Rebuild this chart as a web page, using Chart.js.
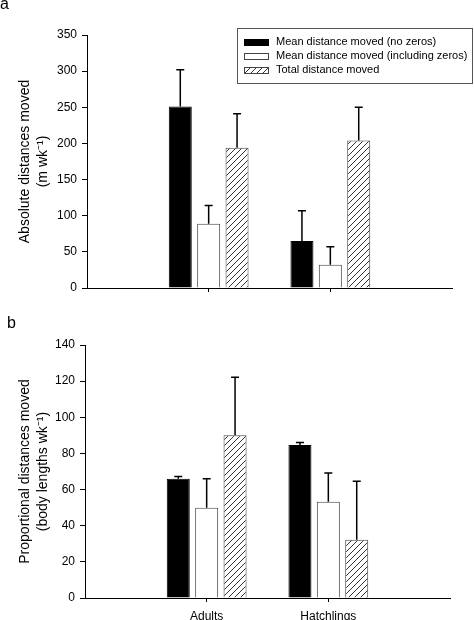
<!DOCTYPE html>
<html>
<head>
<meta charset="utf-8">
<script src="https://cdn.jsdelivr.net/npm/chart.js@4.4.0/dist/chart.umd.min.js"></script>
<style>
  body { margin: 0; background: #fff; }
  canvas { display: block; }
</style>
</head>
<body>
<canvas id="chartA" width="474" height="310"></canvas>
<canvas id="chartB" width="474" height="310"></canvas>
<script>
const categories = ['', 'Adults', 'Hatchlings', ''];
const seriesNames = ['Mean distance moved (no zeros)', 'Mean distance moved (including zeros)', 'Total distance moved'];

// panel a - absolute distances (m wk-1)
const absNoZeros = [null, 251, 65, null];
const absInclZeros = [null, 89, 32, null];
const absTotal = [null, 194, 204, null];
// tops of the error bars
const absNoZerosUpper = [null, 302, 107, null];
const absInclZerosUpper = [null, 114, 57, null];
const absTotalUpper = [null, 241, 250, null];
const absTicks = [0, 50, 100, 150, 200, 250, 300, 350];

// panel b - proportional distances (body lengths wk-1)
const propNoZeros = [null, 66, 84.7, null];
const propInclZeros = [null, 50, 53.2, null];
const propTotal = [null, 90, 32.2, null];
const propNoZerosUpper = [null, 67.3, 86, null];
const propInclZerosUpper = [null, 66, 69.2, null];
const propTotalUpper = [null, 122.2, 64.6, null];
const propTicks = [0, 20, 40, 60, 80, 100, 120, 140];

const family = "'Liberation Sans', Arial, sans-serif";
Chart.defaults.font.family = family;
Chart.defaults.color = '#000';

function hatch(ctx) {
  const c = document.createElement('canvas');
  c.width = 6; c.height = 6;
  const g = c.getContext('2d');
  g.fillStyle = '#fff';
  g.fillRect(0, 0, 6, 6);
  g.strokeStyle = '#333';
  g.lineWidth = 1;
  g.beginPath();
  g.moveTo(0, 6); g.lineTo(6, 0);
  g.moveTo(-1, 1); g.lineTo(1, -1);
  g.moveTo(5, 7); g.lineTo(7, 5);
  g.stroke();
  return ctx.createPattern(c, 'repeat');
}

const errorBars = {
  id: 'errorBars',
  afterDatasetsDraw(chart) {
    const ctx = chart.ctx, y = chart.scales.y;
    ctx.save();
    ctx.strokeStyle = '#000';
    ctx.lineWidth = 1.5;
    chart.data.datasets.forEach((ds, di) => {
      chart.getDatasetMeta(di).data.forEach((bar, i) => {
        if (ds.data[i] == null || ds.upper[i] == null) return;
        const yt = y.getPixelForValue(ds.upper[i]);
        ctx.beginPath();
        ctx.moveTo(bar.x, bar.y);
        ctx.lineTo(bar.x, yt);
        ctx.moveTo(bar.x - 4, yt);
        ctx.lineTo(bar.x + 4, yt);
        ctx.stroke();
      });
    });
    ctx.restore();
  }
};

const panelTag = {
  id: 'panelTag',
  afterDraw(chart, args, opts) {
    const ctx = chart.ctx;
    ctx.save();
    ctx.fillStyle = '#000';
    ctx.font = '16px ' + family;
    ctx.textBaseline = 'alphabetic';
    ctx.fillText(opts.text, opts.x, opts.y);
    ctx.restore();
  }
};

const boxLegend = {
  id: 'boxLegend',
  afterDraw(chart, args, opts) {
    if (!opts.show) return;
    const ctx = chart.ctx;
    ctx.save();
    ctx.strokeStyle = '#555';
    ctx.lineWidth = 1;
    ctx.strokeRect(237.5, 28.5, 235, 55);
    ctx.font = '11px ' + family;
    ctx.textBaseline = 'middle';
    chart.data.datasets.forEach((ds, i) => {
      const cy = 42 + i * 14;
      ctx.fillStyle = ds.backgroundColor;
      ctx.fillRect(244, cy - 3, 25, 7);
      ctx.strokeStyle = ds.borderColor;
      ctx.strokeRect(244.5, cy - 2.5, 24, 6);
      ctx.fillStyle = '#000';
      ctx.fillText(ds.label, 276, cy);
    });
    ctx.restore();
  }
};

function makeChart(id, series, uppers, ticks, title, p) {
  const canvas = document.getElementById(id);
  const ctx = canvas.getContext('2d');
  const fills = ['#000', '#fff', hatch(ctx)];
  const borders = ['#000', '#444', '#444'];
  return new Chart(ctx, {
    type: 'bar',
    data: {
      labels: categories,
      datasets: series.map((d, i) => ({
        label: seriesNames[i],
        data: d,
        upper: uppers[i],
        backgroundColor: fills[i],
        borderColor: borders[i],
        borderWidth: 1,
        categoryPercentage: 0.70,
        barPercentage: 0.81
      }))
    },
    options: {
      responsive: false,
      animation: false,
      events: [],
      layout: { padding: { top: 35, right: p.right, left: 0, bottom: 0 } },
      plugins: {
        legend: { display: false },
        tooltip: { enabled: false },
        panelTag: { text: p.tag, x: p.tagX, y: p.tagY },
        boxLegend: { show: p.legend }
      },
      scales: {
        x: {
          type: 'category',
          offset: false,
          afterFit: s => { s.height = 22; },
          ticks: { display: p.xLabels, autoSkip: false, maxRotation: 0, padding: 7, font: { size: 12 }, color: '#000' },
          grid: {
            display: true, offset: false, drawOnChartArea: false, drawTicks: true, tickLength: 4,
            color: '#000',
            tickColor: c => categories[c.index] ? '#000' : 'rgba(0,0,0,0)'
          },
          border: { display: true, color: '#000', width: 1 }
        },
        y: {
          min: 0,
          max: ticks[ticks.length - 1],
          afterBuildTicks: s => { s.ticks = ticks.map(v => ({ value: v })); },
          afterFit: s => { s.width = p.left; },
          ticks: { padding: 5, font: { size: 12 }, color: '#000' },
          grid: { display: true, drawOnChartArea: false, drawTicks: true, tickLength: 5, color: '#000' },
          border: { display: true, color: '#000', width: 1 },
          title: {
            display: true,
            text: title,
            color: '#000',
            font: { size: 14, lineHeight: 1.3 },
            padding: { top: 16, bottom: 0 }
          }
        }
      }
    },
    plugins: [errorBars, panelTag, boxLegend]
  });
}

makeChart('chartA',
  [absNoZeros, absInclZeros, absTotal],
  [absNoZerosUpper, absInclZerosUpper, absTotalUpper],
  absTicks,
  ['Absolute distances moved', '(m wk\u207B\u00B9)'],
  { left: 87, right: 22, tag: 'a', tagX: 0, tagY: 9, legend: true, xLabels: false });

makeChart('chartB',
  [propNoZeros, propInclZeros, propTotal],
  [propNoZerosUpper, propInclZerosUpper, propTotalUpper],
  propTicks,
  ['Proportional distances moved', '(body lengths wk\u207B\u00B9)'],
  { left: 85, right: 24, tag: 'b', tagX: 7, tagY: 18, legend: false, xLabels: true });
</script>
</body>
</html>
